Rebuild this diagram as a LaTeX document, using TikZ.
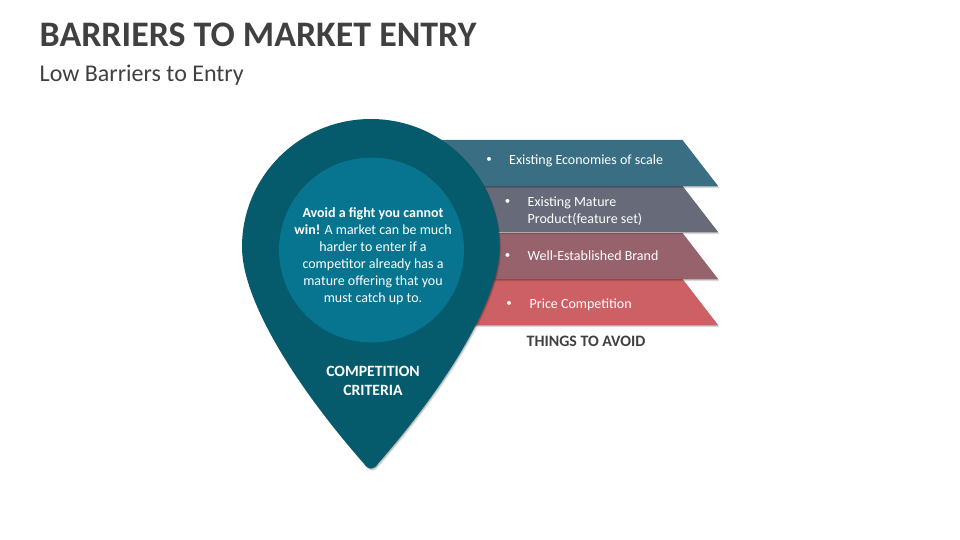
\documentclass[tikz,border=0pt]{standalone}
\usepackage{fontspec}
\setmainfont{Carlito}
\usetikzlibrary{shadows}
\definecolor{pinC}{HTML}{055A6C}
\definecolor{innerC}{HTML}{07758F}
\definecolor{bandA}{HTML}{3A6F83}
\definecolor{bandB}{HTML}{676A79}
\definecolor{bandC}{HTML}{97626B}
\definecolor{bandD}{HTML}{CD6064}
\definecolor{inkC}{HTML}{404040}
\tikzset{
  softshadow/.style={
    drop shadow={shadow xshift=1.6pt,shadow yshift=-2.4pt,opacity=.07,fill=black},
    drop shadow={shadow xshift=1.1pt,shadow yshift=-1.7pt,opacity=.10,fill=black},
    drop shadow={shadow xshift=.6pt,shadow yshift=-1pt,opacity=.14,fill=black}},
  bandshape/.style={softshadow},
  bandtext/.style={text=white,font=\fontsize{14}{17}\selectfont,align=left,anchor=west,inner sep=0pt},
  dotmark/.style={text=white,font=\fontsize{11}{14}\selectfont,inner sep=0pt},
  pintext/.style={text=white,align=center,inner sep=0pt}
}
\begin{document}
\begin{tikzpicture}[x=1pt,y=-1pt]
\useasboundingbox (0,0) rectangle (960,540);
\node[anchor=base west,inner sep=0pt,text=inkC,font=\bfseries\fontsize{35.9}{40}\selectfont] (title) at (39.5,47) {BARRIERS TO MARKET ENTRY};
\node[anchor=base west,inner sep=0pt,text=inkC,font=\fontsize{24}{28}\selectfont] (subtitle) at (39.5,81.5) {Low Barriers to Entry};
\fill[bandD,bandshape] (400,279) -- (682.5,279) -- (718,325) -- (400,325) -- cycle;
\fill[bandC,bandshape] (400,233) -- (682.5,233) -- (718,279) -- (400,279) -- cycle;
\fill[bandB,bandshape] (400,186) -- (682.5,186) -- (718,232) -- (400,232) -- cycle;
\fill[bandA,bandshape] (400,140) -- (682.5,140) -- (718,186) -- (400,186) -- cycle;
\fill[pinC,softshadow] (370.75,119) .. controls (442,119) and (499.5,176) .. (499.5,247)
  .. controls (499.5,300) and (446.5,385) .. (378.5,463)
  .. controls (373.5,470.5) and (368.5,470.5) .. (363.5,463)
  .. controls (295,385) and (242,300) .. (242,247)
  .. controls (242,176) and (300,119) .. (370.75,119) -- cycle;
\fill[innerC] (371.5,250) circle[radius=92.5];
\node[pintext,font=\fontsize{14}{17}\selectfont] (body) at (373,256) {\textbf{Avoid a fight you cannot}\\\textbf{win!} A market can be much\\harder to enter if a\\competitor already has a\\mature offering that you\\must catch up to.};
\node[pintext,font=\bfseries\fontsize{15.7}{19.5}\selectfont] (crit) at (373,381) {COMPETITION\\CRITERIA};
\node[dotmark] (d1) at (489,159.5) {•};
\node[bandtext] (t1) at (509,161) {Existing Economies of scale};
\node[dotmark] (d2) at (507.5,201.5) {•};
\node[bandtext,font=\fontsize{14}{17}\selectfont] (t2) at (527.5,211) {Existing Mature\\Product(feature set)};
\node[dotmark] (d3) at (507.5,255.5) {•};
\node[bandtext] (t3) at (527.5,256) {Well-Established Brand};
\node[dotmark] (d4) at (509,303.5) {•};
\node[bandtext] (t4) at (529.5,305) {Price Competition};
\node[inner sep=0pt,text=inkC,font=\bfseries\fontsize{15.9}{18}\selectfont] (avoid) at (586,341) {THINGS TO AVOID};
\end{tikzpicture}
\end{document}
